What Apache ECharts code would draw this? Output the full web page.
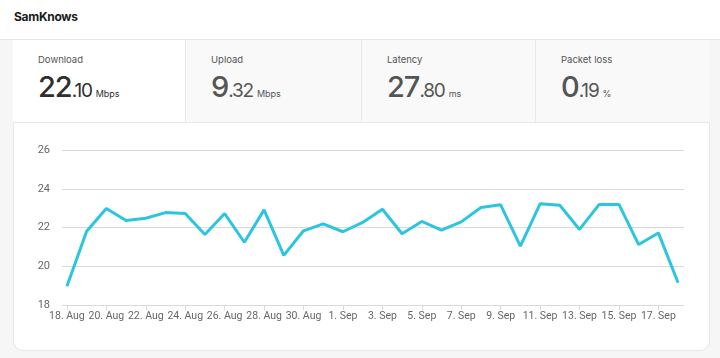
<!DOCTYPE html>
<html>
<head>
<meta charset="utf-8">
<script src="https://cdn.jsdelivr.net/npm/echarts@6/dist/echarts.min.js"></script>
<style>
  html,body{margin:0;padding:0;width:720px;height:358px;overflow:hidden;background:#f6f6f6;font-family:Inter,"Noto Sans",sans-serif;}
  #header{position:absolute;left:0;top:0;width:720px;height:40px;background:#fff;border-bottom:1px solid #e6e6e6;box-sizing:border-box;}
  #brand{position:absolute;left:14px;top:9px;font-size:12px;font-weight:700;color:#1a1a1a;letter-spacing:-0.3px;}
  #card{position:absolute;left:13px;top:40px;width:697px;height:311px;background:#fff;border:1px solid #e8e8e8;border-top:none;border-radius:0 0 10px 10px;box-sizing:border-box;}
  .stat{position:absolute;top:40px;height:83px;background:#f9f9f9;border-right:1px solid #e8e8e8;border-bottom:1px solid #e8e8e8;box-sizing:border-box;}
  .lbl{position:absolute;left:25px;top:14px;font-size:9.5px;color:#555;}
  .val{position:absolute;left:25px;top:29px;color:#555;white-space:nowrap;}
  .big{font-size:29px;letter-spacing:-1px;font-weight:500;}
  .dec{font-size:19px;letter-spacing:-1.2px;}
  .unit{font-size:9px;margin-left:4px;}
  #chart{position:absolute;left:0;top:123px;width:720px;height:235px;}
</style>
</head>
<body>
<div id="header"><div id="brand">SamKnows</div></div>
<div id="card"></div>
<div id="stats"></div>
<div id="chart"></div>
<script>
const statLabels = ["Download", "Upload", "Latency", "Packet loss"];
const statInts = ["22", "9", "27", "0"];
const statDecs = [".10", ".32", ".80", ".19"];
const statUnits = ["Mbps", "Mbps", "ms", "%"];

const dates = ["18. Aug","19. Aug","20. Aug","21. Aug","22. Aug","23. Aug","24. Aug","25. Aug","26. Aug","27. Aug","28. Aug","29. Aug","30. Aug","31. Aug","1. Sep","2. Sep","3. Sep","4. Sep","5. Sep","6. Sep","7. Sep","8. Sep","9. Sep","10. Sep","11. Sep","12. Sep","13. Sep","14. Sep","15. Sep","16. Sep","17. Sep","18. Sep"];
const downloadValues = [18.97, 21.81, 22.98, 22.36, 22.48, 22.77, 22.72, 21.64, 22.72, 21.24, 22.91, 20.56, 21.83, 22.19, 21.78, 22.26, 22.94, 21.68, 22.31, 21.86, 22.29, 23.03, 23.17, 21.04, 23.22, 23.15, 21.90, 23.19, 23.19, 21.12, 21.72, 19.15];
const yTicks = [18, 20, 22, 24, 26];

// stat boxes
const boxX = [13, 186, 362, 536];
const boxW = [173, 176, 174, 174];
const stats = document.getElementById('stats');
statLabels.forEach((l, i) => {
  const d = document.createElement('div');
  d.className = 'stat';
  d.style.left = boxX[i] + 'px';
  d.style.width = boxW[i] + 'px';
  if (i === 0) d.style.background = '#fff';
  if (i === 3) d.style.borderRight = 'none';
  d.innerHTML = '<div class="lbl">' + l + '</div><div class="val"' + (i === 0 ? ' style="color:#2f2f2f"' : '') +
    '><span class="big">' + statInts[i] +
    '</span><span class="dec">' + statDecs[i] + '</span><span class="unit">' + statUnits[i] + '</span></div>';
  stats.appendChild(d);
});

const evenIdx = dates.map((d, i) => i).filter(i => i % 2 === 0);
const chart = echarts.init(document.getElementById('chart'));
chart.setOption({
  animation: false,
  grid: {left: 62, right: 36, top: 27, bottom: 53},
  xAxis: {
    type: 'value',
    min: -0.25,
    max: 31.3,
    splitLine: {show: false},
    axisLine: {show: true, lineStyle: {color: '#dadada', width: 1}},
    axisTick: {show: true, customValues: evenIdx, length: 5, lineStyle: {color: '#dadada'}},
    axisLabel: {
      customValues: evenIdx,
      formatter: v => dates[Math.round(v)] || '',
      color: '#666', fontSize: 10.5, margin: 6, fontFamily: 'Roboto'
    }
  },
  yAxis: {
    type: 'value',
    min: yTicks[0],
    max: yTicks[yTicks.length - 1],
    interval: 2,
    axisLine: {show: false},
    axisTick: {show: false},
    splitLine: {lineStyle: {color: '#dadada', width: 1}},
    axisLabel: {color: '#666', fontSize: 11, margin: 12, fontFamily: 'Roboto'}
  },
  series: [{
    type: 'line',
    data: downloadValues.map((v, i) => [i, v]),
    showSymbol: false,
    symbol: 'none',
    lineStyle: {color: '#2cc5df', width: 3},
    itemStyle: {color: '#2cc5df'}
  }]
});
</script>
</body>
</html>
